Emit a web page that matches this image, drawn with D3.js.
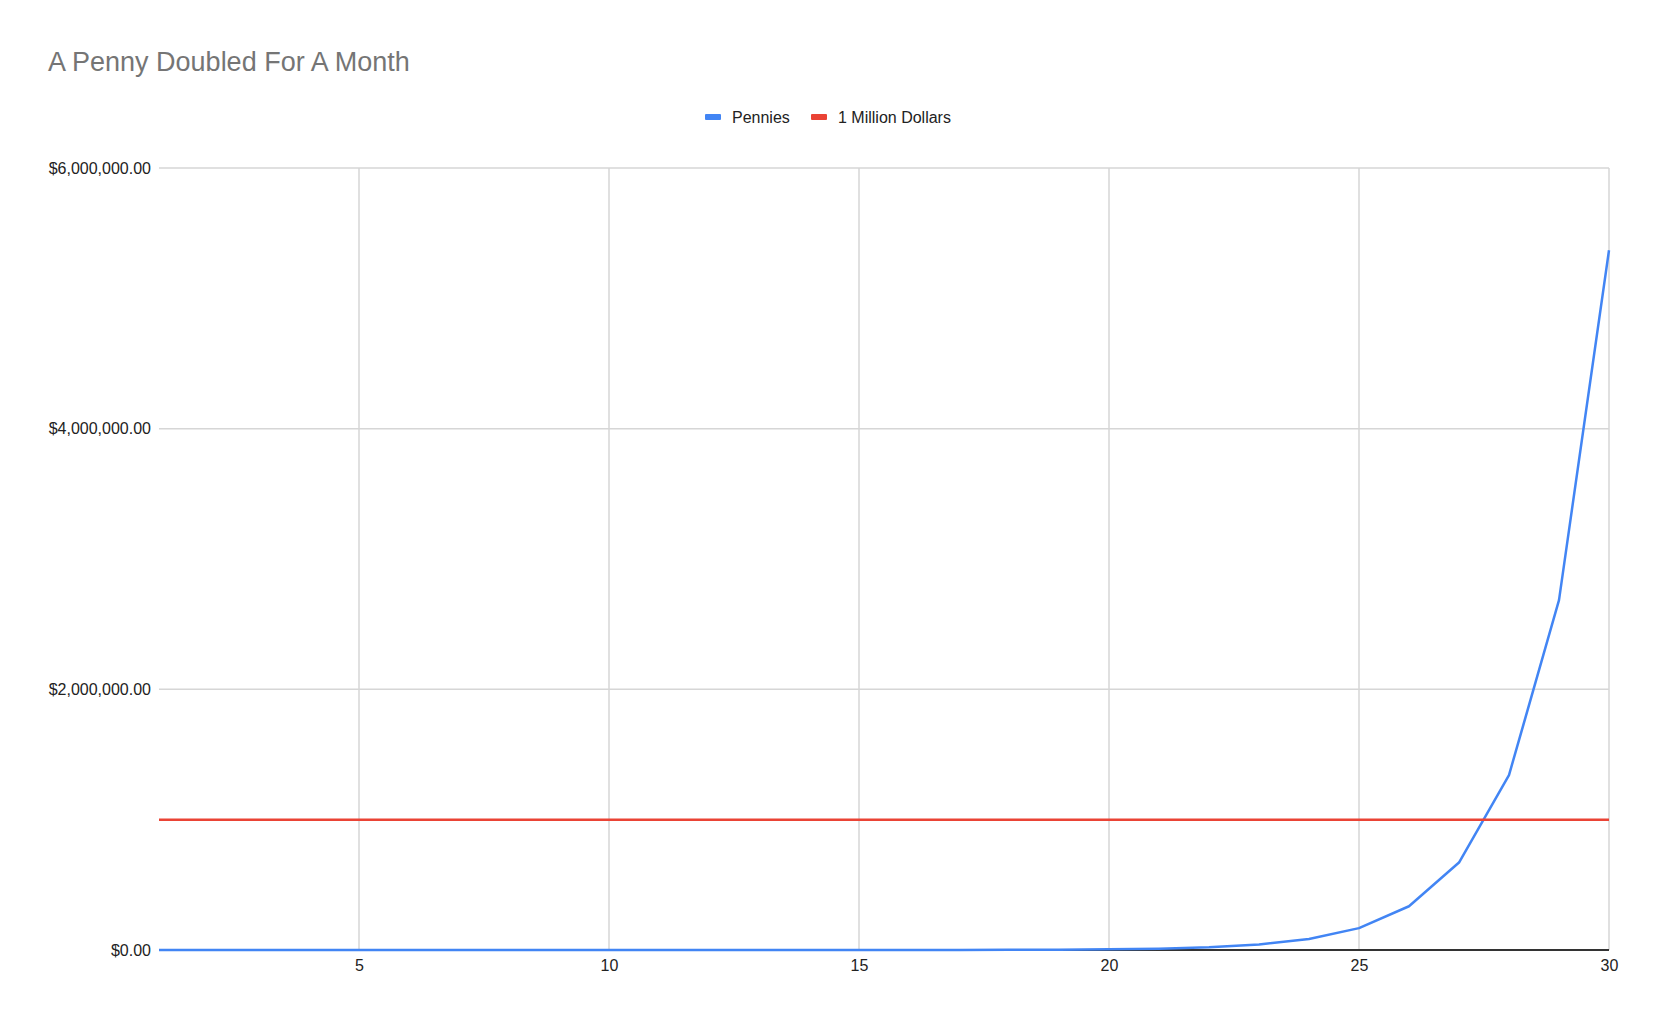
<!DOCTYPE html>
<html>
<head>
<meta charset="utf-8">
<script src="https://cdn.jsdelivr.net/npm/d3@7"></script>
<style>
  body { margin: 0; background: #fff; }
  svg { display: block; font-family: "Liberation Sans", Arial, sans-serif; }
</style>
</head>
<body>
<div id="chart"></div>
<script>
// chart data
const days = [1, 2, 3, 4, 5, 6, 7, 8, 9, 10, 11, 12, 13, 14, 15,
              16, 17, 18, 19, 20, 21, 22, 23, 24, 25, 26, 27, 28, 29, 30];
const pennies = [0.01, 0.02, 0.04, 0.08, 0.16, 0.32, 0.64, 1.28, 2.56, 5.12,
                 10.24, 20.48, 40.96, 81.92, 163.84, 327.68, 655.36, 1310.72, 2621.44, 5242.88,
                 10485.76, 20971.52, 41943.04, 83886.08, 167772.16, 335544.32, 671088.64,
                 1342177.28, 2684354.56, 5368709.12];
const million = [1000000, 1000000, 1000000, 1000000, 1000000, 1000000, 1000000, 1000000, 1000000, 1000000,
                 1000000, 1000000, 1000000, 1000000, 1000000, 1000000, 1000000, 1000000, 1000000, 1000000,
                 1000000, 1000000, 1000000, 1000000, 1000000, 1000000, 1000000, 1000000, 1000000, 1000000];
const xTicks = [5, 10, 15, 20, 25, 30];
const yTicks = [0, 2000000, 4000000, 6000000];
const seriesNames = ["Pennies", "1 Million Dollars"];
const seriesColors = ["#4285F4", "#EA4335"];

const W = 1654, H = 1021;
const margin = { top: 168, right: 45, bottom: 71, left: 159 };
const width = W - margin.left - margin.right;
const height = H - margin.top - margin.bottom;

const svg = d3.select("#chart").append("svg")
  .attr("width", W)
  .attr("height", H);

// title
svg.append("text")
  .attr("x", 48)
  .attr("y", 71)
  .style("font-size", "27px")
  .style("fill", "#757575")
  .text("A Penny Doubled For A Month");

const g = svg.append("g")
  .attr("transform", "translate(" + margin.left + "," + margin.top + ")");

const x = d3.scaleLinear().domain([1, 30]).range([0, width]);
const y = d3.scaleLinear().domain([0, 6000000]).range([height, 0]);

// horizontal gridlines
g.selectAll("line.hgrid")
  .data(yTicks.filter(d => d > 0))
  .enter().append("line")
  .attr("class", "hgrid")
  .attr("x1", 0).attr("x2", width)
  .attr("y1", d => y(d)).attr("y2", d => y(d))
  .style("stroke", "#d6d6d6")
  .style("stroke-width", 1.5);

// vertical gridlines
g.selectAll("line.vgrid")
  .data(xTicks)
  .enter().append("line")
  .attr("class", "vgrid")
  .attr("x1", d => x(d)).attr("x2", d => x(d))
  .attr("y1", 0).attr("y2", height)
  .style("stroke", "#d6d6d6")
  .style("stroke-width", 1.5);

// y axis labels
const yAxis = d3.axisLeft(y)
  .tickValues(yTicks)
  .tickSize(0)
  .tickPadding(8)
  .tickFormat(d => "$" + d3.format(",.2f")(d));

g.append("g")
  .attr("class", "y axis")
  .call(yAxis)
  .call(a => a.select(".domain").remove())
  .selectAll("text")
  .style("font-family", "'Liberation Sans', Arial, sans-serif")
  .style("font-size", "16px")
  .style("fill", "#222");

// x axis labels
const xAxis = d3.axisBottom(x)
  .tickValues(xTicks)
  .tickSize(0)
  .tickPadding(10);

g.append("g")
  .attr("class", "x axis")
  .attr("transform", "translate(0," + height + ")")
  .call(xAxis)
  .call(a => a.select(".domain").remove())
  .selectAll("text")
  .style("font-family", "'Liberation Sans', Arial, sans-serif")
  .style("font-size", "16px")
  .style("fill", "#222");

// baseline
g.append("line")
  .attr("x1", 0).attr("x2", width)
  .attr("y1", y(0)).attr("y2", y(0))
  .style("stroke", "#333")
  .style("stroke-width", 2);

// lines
const line = d3.line()
  .x((d, i) => x(days[i]))
  .y(d => y(d));

[pennies, million].forEach((vals, i) => {
  g.append("path")
    .datum(vals)
    .attr("d", line)
    .style("fill", "none")
    .style("stroke", seriesColors[i])
    .style("stroke-width", 2.5)
    .style("stroke-linejoin", "round");
});

// legend
const legend = svg.append("g").attr("class", "legend");
const legendX = [705, 811];
seriesNames.forEach((name, i) => {
  legend.append("rect")
    .attr("x", legendX[i])
    .attr("y", 114)
    .attr("width", 16)
    .attr("height", 6)
    .attr("rx", 1)
    .attr("fill", seriesColors[i]);
  legend.append("text")
    .attr("x", legendX[i] + 27)
    .attr("y", 123)
    .style("font-size", "16px")
    .style("fill", "#222")
    .text(name);
});
</script>
</body>
</html>
